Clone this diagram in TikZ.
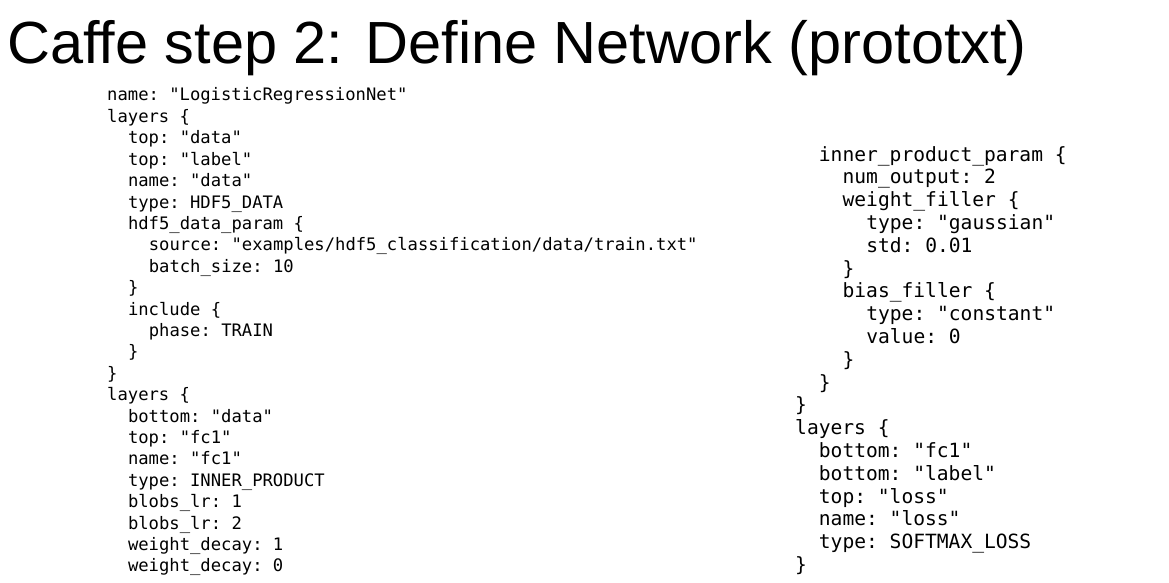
\documentclass[tikz,border=0pt]{standalone}
\usepackage{fontspec}
\setmainfont{Liberation Sans}
\setmonofont{DejaVu Sans Mono}
\begin{document}
\begin{tikzpicture}[x=1pt,y=-1pt,
  codeL/.style={anchor=base west,inner sep=0pt,font=\fontsize{17.2}{20}\ttfamily},
  codeR/.style={anchor=base west,inner sep=0pt,font=\fontsize{19.6}{22}\ttfamily}]
\useasboundingbox (0,0) rectangle (1169,583);
\node[anchor=base west,inner sep=0pt,font=\fontsize{59.5}{66}\selectfont] (title) at (7,64) {Caffe step 2: Define Network (prototxt)};
\foreach \i/\ind/\t in {
0/0/{name: "LogisticRegressionNet"},
1/0/{layers \{},
2/1/{top: "data"},
3/1/{top: "label"},
4/1/{name: "data"},
5/1/{type: HDF5\_DATA},
6/1/{hdf5\_data\_param \{},
7/2/{source: "examples/hdf5\_classification/data/train.txt"},
8/2/{batch\_size: 10},
9/1/{\}},
10/1/{include \{},
11/2/{phase: TRAIN},
12/1/{\}},
13/0/{\}},
14/0/{layers \{},
15/1/{bottom: "data"},
16/1/{top: "fc1"},
17/1/{name: "fc1"},
18/1/{type: INNER\_PRODUCT},
19/1/{blobs\_lr: 1},
20/1/{blobs\_lr: 2},
21/1/{weight\_decay: 1},
22/1/{weight\_decay: 0}}
{\node[codeL] (l\i) at ({107+20.8*\ind},{101+21.4*\i}) {\t};}
\foreach \i/\ind/\t in {
0/1/{inner\_product\_param \{},
1/2/{num\_output: 2},
2/2/{weight\_filler \{},
3/3/{type: "gaussian"},
4/3/{std: 0.01},
5/2/{\}},
6/2/{bias\_filler \{},
7/3/{type: "constant"},
8/3/{value: 0},
9/2/{\}},
10/1/{\}},
11/0/{\}},
12/0/{layers \{},
13/1/{bottom: "fc1"},
14/1/{bottom: "label"},
15/1/{top: "loss"},
16/1/{name: "loss"},
17/1/{type: SOFTMAX\_LOSS},
18/0/{\}}}
{\node[codeR] (r\i) at ({795+23.7*\ind},{161+22.8*\i}) {\t};}
\end{tikzpicture}
\end{document}
